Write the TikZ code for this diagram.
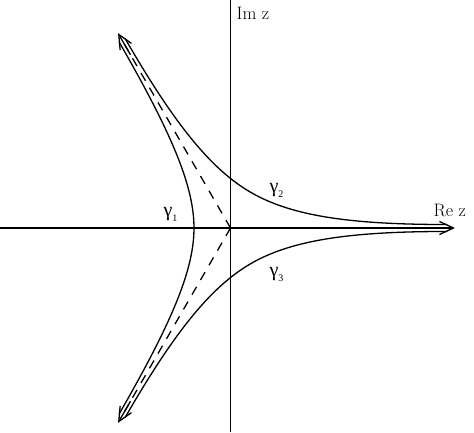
\documentclass[tikz,border=0pt]{standalone}
\usepackage{fontspec}
\newfontfamily\gfont{Liberation Serif}
\usetikzlibrary{arrows.meta}
\newcommand\gsub[1]{\raisebox{-0.55ex}{\fontsize{10}{10}\selectfont #1}}
% #1 rotation, #2 vertex distance, #3 vertex control length, #4 end control length
\newcommand\gcurve[4]{%
  \begin{scope}[rotate=#1]
    \draw[curveline] (111.4,-186)
      .. controls ({111.4-0.5*#4},{-186+0.866*#4}) and (#2,-#3) .. (#2,0)
      .. controls (#2,#3) and ({111.4-0.5*#4},{186-0.866*#4}) .. (111.4,186);
  \end{scope}}
\begin{document}
\begin{tikzpicture}[x=1pt,y=1pt,
  axisline/.style={line width=1.3pt},
  curveline/.style={line width=1.3pt},
  dashline/.style={line width=1.3pt, dash pattern=on 9pt off 8pt},
  tiparrow/.style={line width=1.3pt, -{Straight Barb[length=14pt,width=13pt]}},
  lbl/.style={font=\fontsize{18}{18}\selectfont, inner sep=0pt},
  glbl/.style={font=\gfont\fontsize{20}{20}\selectfont, inner sep=0pt}]
\useasboundingbox (-230.5,-204) rectangle (243.5,228);
\fill[white] (-230.5,-204) rectangle (243.5,228);
\coordinate (O) at (0,0);
\coordinate (W) at (-230.5,0);
\coordinate (E) at (224.5,0);
\coordinate (N) at (0,228);
\coordinate (S) at (0,-204);
\coordinate (tipA) at (120:225);
\coordinate (tipB) at (240:225);
\coordinate (preA) at (120:200);
\coordinate (preB) at (240:200);
\coordinate (dashA) at (120:212);
\coordinate (dashB) at (240:212);
% axes
\draw[axisline] (S) -- (N);
\draw[tiparrow] (W) -- (E);
% curves
\gcurve{180}{36.5}{40}{110}
\gcurve{60}{41}{48}{95}
\gcurve{-60}{41}{48}{95}
% dashed contour
\draw[dashline] (O) -- (dashA);
\draw[dashline] (O) -- (dashB);
\draw[tiparrow] (preA) -- (tipA);
\draw[tiparrow] (preB) -- (tipB);
% labels
\node[lbl, anchor=west] (imz) at (6,215) {Im z};
\node[lbl, anchor=west] (rez) at (203,18) {Re z};
\node[glbl] (g1) at (-60,14) {γ\gsub{1}};
\node[glbl] (g2) at (46,38) {γ\gsub{2}};
\node[glbl] (g3) at (46,-46) {γ\gsub{3}};
\end{tikzpicture}
\end{document}
